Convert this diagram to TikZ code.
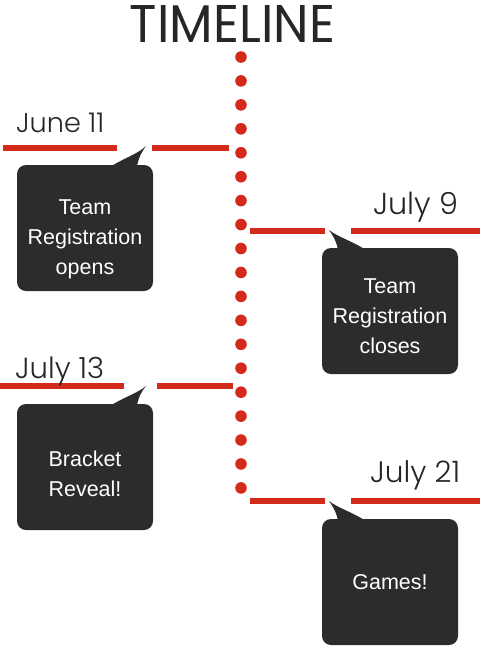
\documentclass[tikz,border=0pt]{standalone}
\usepackage{fontspec}
\setmainfont{Liberation Sans}
\newfontfamily\titlefont{Poppins}
\newfontfamily\datefont{Poppins Light}
\definecolor{tlred}{HTML}{D42A1C}
\definecolor{boxgray}{HTML}{2D2B2C}
\definecolor{inkgray}{HTML}{262626}
\tikzset{
  redline/.style={draw=tlred, line width=6pt},
  dotstyle/.style={fill=tlred, draw=none},
  bubble/.style={fill=boxgray, draw=none, rounded corners=9pt, minimum width=136pt, minimum height=126pt, inner sep=0pt},
  bubbletext/.style={text=white, font=\fontsize{21.5}{30}\selectfont, align=center},
  datelabel/.style={text=inkgray, inner sep=0pt, anchor=base west},
}
\begin{document}
\begin{tikzpicture}[x=1pt,y=-1pt]
\useasboundingbox (0,0) rectangle (480,649);
% title
\node[text=inkgray, inner sep=0pt, anchor=base] (title) at (232.5,42) {\resizebox{205pt}{37pt}{\titlefont TIMELINE}};
% dotted spine
\foreach \i in {0,...,18} {
  \fill[dotstyle] (241,{57+\i*23.94}) circle (5.8pt);
}
% date lines
\coordinate (a1) at (3,148); \coordinate (a2) at (117,148);
\coordinate (a3) at (152,148); \coordinate (a4) at (229,148);
\draw[redline] (a1) -- (a2); \draw[redline] (a3) -- (a4);
\coordinate (b1) at (250,231); \coordinate (b2) at (325,231);
\coordinate (b3) at (351,231); \coordinate (b4) at (480,231);
\draw[redline] (b1) -- (b2); \draw[redline] (b3) -- (b4);
\coordinate (c1) at (0,386); \coordinate (c2) at (124,386);
\coordinate (c3) at (157,386); \coordinate (c4) at (233,386);
\draw[redline] (c1) -- (c2); \draw[redline] (c3) -- (c4);
\coordinate (d1) at (250,501); \coordinate (d2) at (325,501);
\coordinate (d3) at (351,501); \coordinate (d4) at (480,501);
\draw[redline] (d1) -- (d2); \draw[redline] (d3) -- (d4);
% date labels
\node[datelabel] (dA) at (16,132) {\resizebox{88pt}{!}{\datefont June 11}};
\node[datelabel] (dB) at (373,214) {\resizebox{85pt}{!}{\datefont July 9}};
\node[datelabel] (dC) at (15,378) {\resizebox{89pt}{!}{\datefont July 13}};
\node[datelabel] (dD) at (370,482) {\resizebox{90pt}{!}{\datefont July 21}};
% bubbles
\node[bubble] (bA) at (85,228) {};
\fill[boxgray] (110,167) .. controls (124,158) and (138,154) .. (146,146) .. controls (141,153) and (138,159) .. (137,167) -- cycle;
\node[bubble] (bB) at (390,311) {};
\fill[boxgray] (366,250) .. controls (352,241) and (338,237) .. (329,230) .. controls (334,237) and (337,243) .. (338,250) -- cycle;
\node[bubble] (bC) at (85,467) {};
\fill[boxgray] (110,406) .. controls (124,397) and (138,393) .. (146,386) .. controls (141,392) and (138,398) .. (137,406) -- cycle;
\node[bubble] (bD) at (390,582) {};
\fill[boxgray] (366,521) .. controls (352,512) and (338,508) .. (329,501) .. controls (334,508) and (337,514) .. (338,521) -- cycle;
% bubble texts
\node[bubbletext] (tA) at (85,239) {Team\\Registration\\opens};
\node[bubbletext] (tB) at (390,316) {Team\\Registration\\closes};
\node[bubbletext] (tC) at (85,474) {Bracket\\Reveal!};
\node[bubbletext] (tD) at (390,582) {Games!};
\end{tikzpicture}
\end{document}
